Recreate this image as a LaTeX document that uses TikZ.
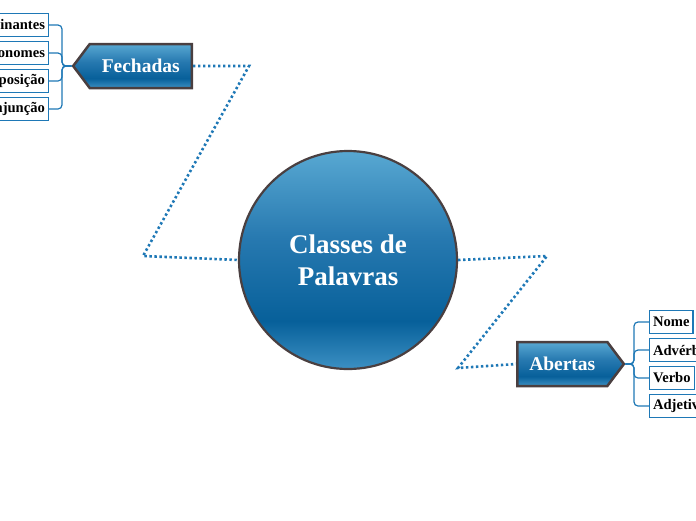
\documentclass[tikz,border=0pt]{standalone}
\usepackage{fontspec}
\setmainfont{Liberation Serif}
\usetikzlibrary{shapes.symbols}

\definecolor{linkblue}{HTML}{1E78B6}
\definecolor{rimgray}{HTML}{4A3F40}
\definecolor{shtop}{HTML}{58A8D2}
\definecolor{shmid}{HTML}{2779B0}
\definecolor{shdeep}{HTML}{07609A}
\definecolor{shlow}{HTML}{3C90C3}
\pgfdeclareverticalshading{bubble}{100bp}{color(0bp)=(shlow); color(25bp)=(shlow); color(36bp)=(shdeep); color(55bp)=(shmid); color(75bp)=(shtop); color(100bp)=(shtop)}

\tikzset{
	hub/.style={circle, draw=rimgray, line width=2.2pt, shading=bubble, minimum size=218pt, inner sep=0pt, text=white, align=center, font=\bfseries\fontsize{27}{32}\selectfont},
	branch/.style={signal, signal pointer angle=106, draw=rimgray, line width=2.5pt, shading=bubble, minimum height=44pt, inner xsep=12pt, text=white, font=\bfseries\fontsize{19.5}{22}\selectfont},
	leaf/.style={draw=linkblue, line width=1.1pt, fill=white, minimum height=23pt, inner xsep=3.5pt, inner ysep=0pt, font=\bfseries\fontsize{14.6}{16}\selectfont},
	link/.style={linkblue, line width=2.6pt, dash pattern=on 2.4pt off 2.6pt},
	fork/.style={linkblue, line width=1.2pt, rounded corners=4pt}
}

\begin{document}
\begin{tikzpicture}[x=1pt, y=-1pt]
	\useasboundingbox (0,0) rectangle (696,520);
	\node [hub] (hub) at (348,260) {Classes de\\Palavras};
	\node [branch, signal to=west, anchor=east] (fechadas) at (193,66) {Fechadas};
	\node [branch, signal to=east, anchor=west] (abertas) at (516,364) {Abertas};
	% dotted links
	\coordinate (fbend1) at (249,66);
	\coordinate (fbend2) at (143,256);
	\coordinate (abend1) at (547,256);
	\coordinate (abend2) at (458,368);
	\draw [link] (fechadas.east) -- (fbend1) -- (fbend2) -- (hub.west);
	\draw [link] (hub.east) -- (abend1) -- (abend2) -- (abertas.west);
	% leaves
	\foreach \word/\y [count=\i] in {Determinantes/25, Pronomes/53, Preposição/81, Conjunção/109} {
		\node [leaf, anchor=east] (fleaf\i) at (49,\y) {\word};
		\draw [fork] (fechadas.west) -- (62,66) |- (fleaf\i.east);
	}
	\foreach \word/\y [count=\i] in {Nome/322, Advérbio/350, Verbo/378, Adjetivo/406} {
		\node [leaf, anchor=west] (aleaf\i) at (649,\y) {\word};
		\draw [fork] (abertas.east) -- (634,364) |- (aleaf\i.west);
	}
\end{tikzpicture}
\end{document}
